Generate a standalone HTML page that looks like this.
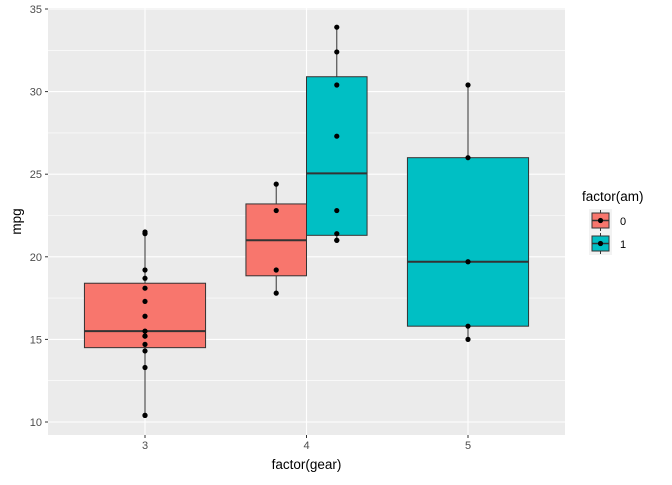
<!DOCTYPE html>
<html><head><meta charset="utf-8"><style>
body{margin:0;background:#fff;}
svg text{font-family:"Liberation Sans",Arial,sans-serif;}
</style></head><body>
<svg id="c" width="672" height="480" xmlns="http://www.w3.org/2000/svg"></svg>
<script>
const gears=["3","4","5"];
const groups=[{g:0,am:"0",dodge:0,n:1},{g:1,am:"0",dodge:0,n:2},{g:1,am:"1",dodge:1,n:2},{g:2,am:"1",dodge:0,n:1}];
const lower=[10.4,17.8,21.0,15.0];
const q1=[14.5,18.85,21.3,15.8];
const med=[15.5,21.0,25.05,19.7];
const q3=[18.4,23.2,30.9,26.0];
const upper=[21.5,24.4,33.9,30.4];
const pts=[[21.4,18.7,18.1,14.3,16.4,17.3,15.2,10.4,10.4,14.7,21.5,15.5,15.2,13.3,19.2],[24.4,22.8,19.2,17.8],[21,21,22.8,32.4,30.4,33.9,27.3,21.4],[26,30.4,15.8,19.7,15.0]];
const yTicks=[10,15,20,25,30,35];
const colors={"0":"#F8766D","1":"#00BFC4"};
const L=48,R=565,T=8,B=435;
const xs=i=>145+i*161.5;
const ys=v=>422-(v-10)*16.52;
const svg=document.getElementById('c');
const NS="http://www.w3.org/2000/svg";
function el(t,a,p){const e=document.createElementNS(NS,t);for(const k in a)e.setAttribute(k,a[k]);(p||svg).appendChild(e);return e;}
let e=el('rect',{x:L,y:T,width:R-L,height:B-T,fill:'#EBEBEB'});

for(let i=0;i<yTicks.length-1;i++){const m=(yTicks[i]+yTicks[i+1])/2;el('line',{x1:L,x2:R,y1:ys(m),y2:ys(m),stroke:'#fff','stroke-width':0.6});}
yTicks.forEach(v=>{const l=el('line',{x1:L,x2:R,y1:ys(v),y2:ys(v),stroke:'#fff','stroke-width':1.1});

el('line',{x1:L-3,x2:L,y1:ys(v),y2:ys(v),stroke:'#333'});
const t=el('text',{x:L-6,y:ys(v)+4,'text-anchor':'end','font-size':11,fill:'#4D4D4D'});t.textContent=v;
});
gears.forEach((g,i)=>{el('line',{x1:xs(i),x2:xs(i),y1:T,y2:B,stroke:'#fff','stroke-width':1.1});
el('line',{x1:xs(i),x2:xs(i),y1:B,y2:B+3,stroke:'#333'});
const t=el('text',{x:xs(i),y:B+14,'text-anchor':'middle','font-size':11,fill:'#4D4D4D'});t.textContent=g;
});
const W=0.75*161.5;
groups.forEach((gr,k)=>{const w=W/gr.n;const x0=xs(gr.g)-W/2+gr.dodge*w;const cx=x0+w/2;
const grp=el('g',{});
el('line',{x1:cx,x2:cx,y1:ys(upper[k]),y2:ys(q3[k]),stroke:'#333'},grp);
el('line',{x1:cx,x2:cx,y1:ys(q1[k]),y2:ys(lower[k]),stroke:'#333'},grp);
el('rect',{x:x0,y:ys(q3[k]),width:w,height:ys(q1[k])-ys(q3[k]),fill:colors[gr.am],stroke:'#333'},grp);
el('line',{x1:x0,x2:x0+w,y1:ys(med[k]),y2:ys(med[k]),stroke:'#333','stroke-width':2},grp);
pts[k].forEach(v=>{const c=el('circle',{cx:cx,cy:ys(v),r:2.6,fill:'#000'},grp);
});});
let t=el('text',{x:(L+R)/2,y:469,'text-anchor':'middle','font-size':13.5,fill:'#000'});t.textContent='factor(gear)';

t=el('text',{x:0,y:0,'text-anchor':'middle','font-size':13.5,fill:'#000',transform:'translate(21,'+((T+B)/2)+') rotate(-90)'});t.textContent='mpg';

t=el('text',{x:582,y:201,'font-size':13.5,fill:'#000'});t.textContent='factor(am)';

["0","1"].forEach((a,i)=>{const y0=209+i*23;const g=el('g',{});
el('rect',{x:589,y:y0,width:23,height:23,fill:'#F2F2F2'},g);
el('line',{x1:600.5,x2:600.5,y1:y0+1,y2:y0+22,stroke:'#333'},g);
el('rect',{x:592,y:y0+4,width:17,height:15,fill:colors[a],stroke:'#333'},g);
el('line',{x1:592,x2:609,y1:y0+11.5,y2:y0+11.5,stroke:'#333','stroke-width':1.5},g);
el('circle',{cx:600.5,cy:y0+11.5,r:2.6,fill:'#000'},g);
const tt=el('text',{x:620,y:y0+16,'font-size':11,fill:'#000'},g);tt.textContent=a;});
</script>
</body></html>
